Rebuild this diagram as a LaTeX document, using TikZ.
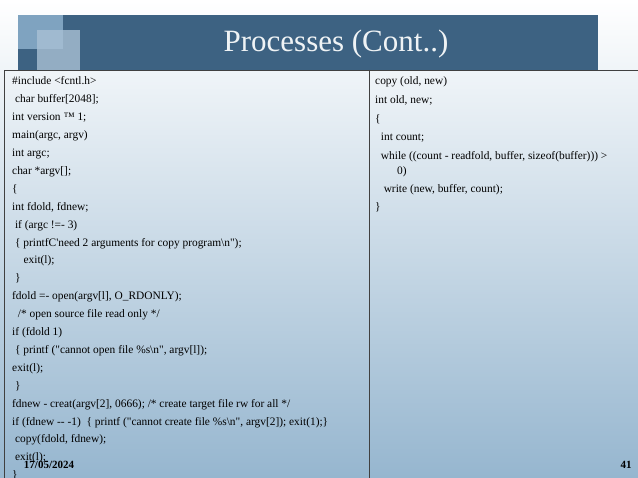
\documentclass[tikz,border=0pt]{standalone}
\usepackage{fontspec}
\setmainfont{Liberation Serif}
\newfontfamily\codefont{Liberation Serif}
\begin{document}
\begin{tikzpicture}[x=1pt,y=-1pt,
  code/.style={anchor=base west,inner sep=0pt,font=\codefont\fontsize{11.4}{13}\selectfont,text=black},
  foot/.style={anchor=base,inner sep=0pt,font=\fontsize{11}{13}\selectfont\bfseries,text=black}]
\definecolor{band}{HTML}{3D6282}
\definecolor{sqA}{HTML}{7FA3C0}
\definecolor{sqB}{HTML}{A9C0D4}
\definecolor{bgbot}{HTML}{96B6CF}
\useasboundingbox (0,0) rectangle (638,478);
\shade[top color=white,bottom color=bgbot] (0,0) rectangle (638,478);
\fill[band] (18,15) rectangle (598,70);
\fill[sqA] (18,15) rectangle (63,49);
\fill[sqB,opacity=0.8] (37,30) rectangle (80,70);
\node[text=white!92!band,font=\fontsize{31}{36}\selectfont] (title) at (336,44) {Processes (Cont..)};
\draw[black!75,line width=0.8pt] (4,70) rectangle (639,479);
\draw[black!75,line width=0.8pt] (369,70) -- (369,479);
\foreach \t [count=\i] in {%
 {\#include <fcntl.h>},
 {\ char buffer[2048];},
 {int version ™ 1;},
 {main(argc, argv)},
 {int argc;},
 {char *argv[];},
 {\{},
 {int fdold, fdnew;},
 {\ if (argc !=- 3)},
 {\ \{ printfC'need 2 arguments for copy program\textbackslash n");},
 {\ \ \ \ exit(l);},
 {\ \}},
 {fdold =- open(argv[l], O\_RDONLY);},
 {\ \ /* open source file read only */},
 {if (fdold 1)},
 {\ \{ printf ("cannot open file \%s\textbackslash n", argv[l]);},
 {exit(l);},
 {\ \}},
 {fdnew - creat(argv[2], 0666); /* create target file rw for all */},
 {if (fdnew -- -1) \ \{ printf ("cannot create file \%s\textbackslash n", argv[2]); exit(1);\}},
 {\ copy(fdold, fdnew);},
 {\ exit(l);},
 {\}}}
 \node[code] (l\i) at (12,{85+(\i-1)*17.9}) {\t};
\node[code] (r1) at (375,85) {copy (old, new)};
\node[code] (r2) at (375,103.9) {int old, new;};
\node[code] (r3) at (375,122.3) {\{};
\node[code] (r4) at (375,140.7) {\ \ int count;};
\node[code] (r5) at (375,159.1) {\ \ while ((count - readfold, buffer, sizeof(buffer))) >};
\node[code] (r6) at (375,174.5) {\hspace{22pt}0)};
\node[code] (r7) at (375,192.5) {\ \ \ write (new, buffer, count);};
\node[code] (r8) at (375,210.5) {\}};
\node[foot] (date) at (49,469) {17/05/2024};
\node[foot] (pg) at (626,469) {41};
\end{tikzpicture}
\end{document}
